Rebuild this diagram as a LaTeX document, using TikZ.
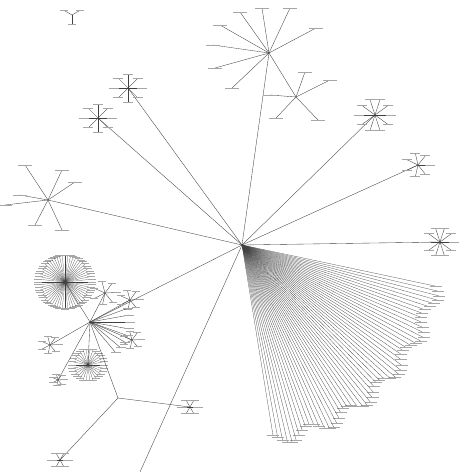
\documentclass[tikz,border=0pt]{standalone}
\usetikzlibrary{calc}
\begin{document}
\begin{tikzpicture}[x=1pt,y=-1pt,
  e/.style={draw=black!75,line width=0.35pt},
  lb/.style={fill=black!35,inner sep=0pt,minimum height=1pt,minimum width=14pt}]
\useasboundingbox[fill=white] (0,0) rectangle (474,474);
\coordinate (H) at (242,245);
% main hubs
\foreach \n/\x/\y in {T/269/53, A/128/88, B/98/118, L/48/200, M/90/322, C/375/115, D/418/165, R/440/242, Bo/140/472, Bh/118/398}
  \coordinate (\n) at (\x,\y);
\foreach \n in {T,A,B,L,M,C,D,R,Bo} \draw[e] (H) -- (\n);
% top hub
\coordinate (T2) at (296,97);
\draw[e] (T) -- (T2);
\foreach \x/\y in {262/8,290/8,240/12,220/25,213/45,215/68,232/88,316/28}{
  \coordinate (t) at (\x,\y); \draw[e] (T) -- (t); \node[lb] at (t) {};}
\foreach \x/\y in {305/72,276/118,318/120,270/95,330/80}{
  \coordinate (t) at (\x,\y); \draw[e] (T2) -- (t); \node[lb] at (t) {};}
% clusters with many leaves
\foreach \n/\r/\k in {A/14/8,B/14/8,C/16/10,D/12/7,R/14/10}{
  \foreach \i in {1,...,\k}{
    \coordinate (t) at ($(\n)+(\i*360/\k:\r)$);
    \draw[e] (\n) -- (t); \node[lb,minimum width=10pt] at (t) {};}}
% left hub
\foreach \x/\y in {5/205,25/165,62/170,75/182,62/230,35/225,20/195}{
  \coordinate (t) at (\x,\y); \draw[e] (L) -- (t); \node[lb] at (t) {};}
% big fan circle
\coordinate (F) at (65,282);
\draw[e] (M) -- (F);
\foreach \i in {1,...,60}{
  \coordinate (t) at ($(F)+(\i*6:27)$); \draw[e,line width=0.2pt] (F) -- (t); \node[lb,minimum width=8pt] at (t) {};}
\foreach \x/\y/\r in {105/293/12,130/300/10,132/340/9,50/345/9,58/380/6}{
  \coordinate (c) at (\x,\y); \draw[e] (M) -- (c);
  \foreach \i in {1,...,7}{ \coordinate (t) at ($(c)+(\i*51:\r)$); \draw[e] (c) -- (t); \node[lb,minimum width=8pt] at (t) {};}}
\foreach \a in {-20,-10,0,10,20,30,40,50}{
  \coordinate (t) at ($(M)+(\a:40)$); \draw[e] (M) -- (t); \node[lb,minimum width=10pt] at (t) {};}
% lower fan circle
\coordinate (G) at (88,365);
\draw[e] (M) -- (G);
\foreach \i in {1,...,30}{
  \coordinate (t) at ($(G)+(\i*12:16)$); \draw[e,line width=0.2pt] (G) -- (t); \node[lb,minimum width=8pt] at (t) {};}
% bottom branch
\draw[e] (M) -- (Bh) (Bh) -- (190,407) (Bh) -- (60,460);
\foreach \x/\y in {190/407,60/460}{
  \coordinate (c) at (\x,\y);
  \foreach \i in {1,...,6}{ \coordinate (t) at ($(c)+(\i*60:8)$); \draw[e] (c) -- (t); \node[lb,minimum width=10pt] at (t) {};}}
% top-left small cluster
\coordinate (S) at (72,15);
\foreach \a in {90,210,330}{ \coordinate (t) at ($(S)+(\a:9)$); \draw[e] (S) -- (t); \node[lb,minimum width=8pt] at (t) {};}
% radial fan to the lower right
\foreach \i in {0,...,55}{
  \pgfmathsetmacro\ang{12+\i*1.25}
  \pgfmathsetmacro\rad{198+6*sin(\i*37)}
  \coordinate (t) at ($(H)+(\ang:\rad)$);
  \draw[e,line width=0.25pt] (H) -- (t); \node[lb,minimum width=12pt] at (t) {};}
\end{tikzpicture}
\end{document}
